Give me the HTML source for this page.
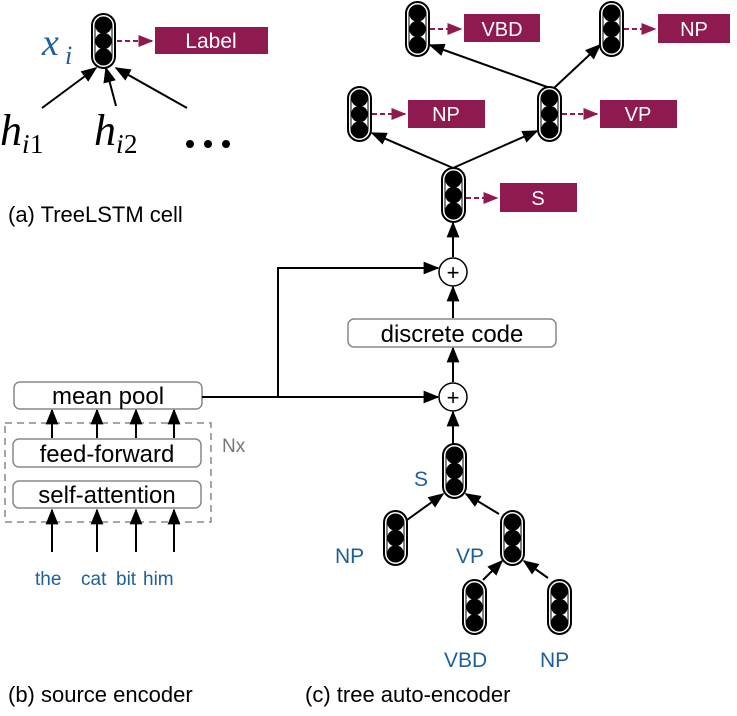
<!DOCTYPE html>
<html><head><meta charset="utf-8"><style>
html,body{margin:0;padding:0;background:#fff;}
svg{display:block;}
.s{font-family:"Liberation Sans",sans-serif;}
.m{font-family:"Liberation Serif",serif;font-style:italic;}
.r{font-family:"Liberation Serif",serif;}
</style></head><body>
<svg width="737" height="716" viewBox="0 0 737 716" xmlns="http://www.w3.org/2000/svg">
<defs>
<g id="cell">
<rect x="0" y="0" width="23" height="54" rx="11.5" fill="#fff" stroke="#000" stroke-width="2"/>
<rect x="3" y="3" width="17" height="48" rx="8.5" fill="#fff" stroke="#000" stroke-width="1"/>
<circle cx="11.5" cy="11.5" r="8.3" fill="#000"/>
<circle cx="11.5" cy="27" r="8.3" fill="#000"/>
<circle cx="11.5" cy="42.5" r="8.3" fill="#000"/>
</g>
<marker id="ab" viewBox="0 0 10 10" refX="9" refY="5" markerWidth="16" markerHeight="16" orient="auto" markerUnits="userSpaceOnUse">
<path d="M0,1 L10,5 L0,9 z" fill="#000"/></marker>
<marker id="am" viewBox="0 0 10 10" refX="9" refY="5" markerWidth="15" markerHeight="15" orient="auto" markerUnits="userSpaceOnUse">
<path d="M0,1 L10,5 L0,9 z" fill="#8e1a4f"/></marker>
</defs>

<!-- (a) -->
<g stroke="#000" stroke-width="2" fill="none">
<line x1="42" y1="108" x2="96" y2="68" marker-end="url(#ab)"/>
<line x1="116" y1="106" x2="106" y2="68" marker-end="url(#ab)"/>
<line x1="187" y1="108" x2="116" y2="68" marker-end="url(#ab)"/>
</g>
<use href="#cell" x="92" y="14"/>
<line x1="117" y1="41" x2="152" y2="41" stroke="#8e1a4f" stroke-width="2" stroke-dasharray="5,3" marker-end="url(#am)"/>
<rect x="155" y="27" width="113" height="27" fill="#8e1a4f"/>
<text class="s" x="211" y="48" font-size="21" fill="#fff" text-anchor="middle">Label</text>
<text class="m" x="42" y="55" font-size="38" fill="#1f5f99">x</text>
<text class="m" x="65" y="64" font-size="26" fill="#1f5f99">i</text>
<text class="m" x="0" y="145" font-size="44">h</text>
<text class="m" x="22" y="153" font-size="27">i</text>
<text class="r" x="30" y="153" font-size="27">1</text>
<text class="m" x="94" y="145" font-size="44">h</text>
<text class="m" x="116" y="153" font-size="27">i</text>
<text class="r" x="124" y="153" font-size="27">2</text>
<circle cx="190" cy="144" r="4" fill="#000"/><circle cx="208" cy="144" r="4" fill="#000"/><circle cx="226" cy="144" r="4" fill="#000"/>
<text class="s" x="8" y="222" font-size="22">(a) TreeLSTM cell</text>

<!-- (b) -->
<rect x="5" y="423" width="206" height="99" fill="none" stroke="#888" stroke-width="1.5" stroke-dasharray="7,5"/>
<g stroke="#000" stroke-width="2">
<line x1="52" y1="438" x2="52" y2="410" marker-end="url(#ab)"/>
<line x1="97" y1="438" x2="97" y2="410" marker-end="url(#ab)"/>
<line x1="136" y1="438" x2="136" y2="410" marker-end="url(#ab)"/>
<line x1="174" y1="438" x2="174" y2="410" marker-end="url(#ab)"/>
<line x1="52" y1="552" x2="52" y2="510" marker-end="url(#ab)"/>
<line x1="97" y1="552" x2="97" y2="510" marker-end="url(#ab)"/>
<line x1="136" y1="552" x2="136" y2="510" marker-end="url(#ab)"/>
<line x1="174" y1="552" x2="174" y2="510" marker-end="url(#ab)"/>
</g>
<rect x="14" y="382" width="188" height="27" rx="6" fill="#fff" stroke="#888" stroke-width="1.5"/>
<text class="s" x="108" y="404" font-size="24" text-anchor="middle">mean pool</text>
<rect x="13" y="439" width="188" height="28" rx="6" fill="#fff" stroke="#888" stroke-width="1.5"/>
<text class="s" x="107" y="462" font-size="24" text-anchor="middle">feed-forward</text>
<rect x="13" y="481" width="188" height="27" rx="6" fill="#fff" stroke="#888" stroke-width="1.5"/>
<text class="s" x="107" y="503" font-size="24" text-anchor="middle">self-attention</text>
<text class="s" x="222" y="452" font-size="19" fill="#777">Nx</text>
<text class="s" x="35" y="585" font-size="19" fill="#1f5f99">the</text>
<text class="s" x="81" y="585" font-size="19" fill="#1f5f99">cat</text>
<text class="s" x="116" y="585" font-size="19" fill="#1f5f99">bit</text>
<text class="s" x="143" y="585" font-size="19" fill="#1f5f99">him</text>
<text class="s" x="8" y="702" font-size="22">(b) source encoder</text>

<!-- connections -->
<g stroke="#000" stroke-width="2" fill="none">
<line x1="202" y1="397" x2="438" y2="397" marker-end="url(#ab)"/>
<polyline points="278,397 278,268 438,268" marker-end="url(#ab)"/>
<line x1="453" y1="444" x2="453" y2="412" marker-end="url(#ab)"/>
<line x1="453" y1="382" x2="453" y2="348" marker-end="url(#ab)"/>
<line x1="453" y1="318" x2="453" y2="287" marker-end="url(#ab)"/>
<line x1="453" y1="257" x2="453" y2="223" marker-end="url(#ab)"/>
<line x1="453" y1="168" x2="372" y2="133" marker-end="url(#ab)"/>
<line x1="453" y1="168" x2="537" y2="131" marker-end="url(#ab)"/>
<line x1="550" y1="88" x2="430" y2="45" marker-end="url(#ab)"/>
<line x1="554" y1="88" x2="600" y2="45" marker-end="url(#ab)"/>
<line x1="407" y1="520" x2="443" y2="494" marker-end="url(#ab)"/>
<line x1="499" y1="514" x2="466" y2="494" marker-end="url(#ab)"/>
<line x1="483" y1="580" x2="502" y2="561" marker-end="url(#ab)"/>
<line x1="548" y1="578" x2="524" y2="561" marker-end="url(#ab)"/>
</g>
<circle cx="453" cy="272" r="14" fill="#fff" stroke="#000" stroke-width="1.5"/>
<text class="s" x="453" y="280" font-size="22" text-anchor="middle">+</text>
<circle cx="453" cy="397" r="14" fill="#fff" stroke="#000" stroke-width="1.5"/>
<text class="s" x="453" y="405" font-size="22" text-anchor="middle">+</text>
<rect x="348" y="319" width="208" height="28" rx="6" fill="#fff" stroke="#888" stroke-width="1.5"/>
<text class="s" x="452" y="342" font-size="24" text-anchor="middle">discrete code</text>

<!-- top tree -->
<use href="#cell" x="406" y="2"/>
<use href="#cell" x="600" y="2"/>
<use href="#cell" x="348" y="87"/>
<use href="#cell" x="538" y="87"/>
<use href="#cell" x="442" y="168"/>
<g stroke="#8e1a4f" stroke-width="2" stroke-dasharray="5,3">
<line x1="430" y1="29" x2="461" y2="29" marker-end="url(#am)"/>
<line x1="624" y1="29" x2="655" y2="29" marker-end="url(#am)"/>
<line x1="372" y1="114" x2="405" y2="114" marker-end="url(#am)"/>
<line x1="562" y1="114" x2="597" y2="114" marker-end="url(#am)"/>
<line x1="466" y1="198" x2="497" y2="198" marker-end="url(#am)"/>
</g>
<g fill="#8e1a4f">
<rect x="464" y="14" width="76" height="28"/>
<rect x="658" y="14" width="72" height="29"/>
<rect x="408" y="100" width="77" height="28"/>
<rect x="600" y="100" width="77" height="28"/>
<rect x="500" y="183" width="77" height="29"/>
</g>
<g class="s" fill="#fff" font-size="20" text-anchor="middle">
<text x="502" y="36">VBD</text>
<text x="694" y="36">NP</text>
<text x="446" y="121">NP</text>
<text x="638" y="121">VP</text>
<text x="538" y="205">S</text>
</g>

<!-- bottom tree -->
<use href="#cell" x="443" y="444"/>
<use href="#cell" x="384" y="511"/>
<use href="#cell" x="501" y="511"/>
<use href="#cell" x="463" y="580"/>
<use href="#cell" x="548" y="580"/>
<g class="s" fill="#1f5f99" font-size="21">
<text x="414" y="486">S</text>
<text x="335" y="563">NP</text>
<text x="456" y="563">VP</text>
<text x="444" y="667">VBD</text>
<text x="540" y="667">NP</text>
</g>
<text class="s" x="305" y="702" font-size="22">(c) tree auto-encoder</text>
</svg>
</body></html>
